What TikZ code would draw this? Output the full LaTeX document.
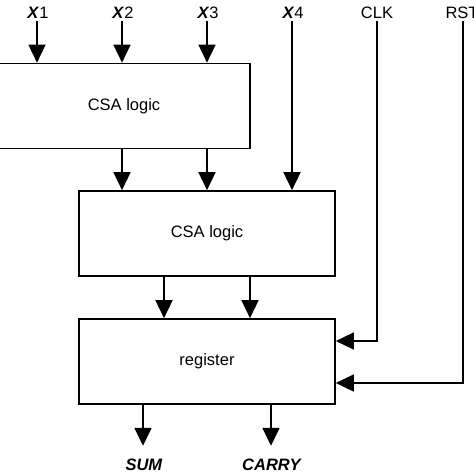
\documentclass[tikz,border=0pt]{standalone}
\usepackage{fontspec}
\setmainfont{Liberation Sans}
\usetikzlibrary{arrows.meta}
\tikzset{
  blk/.style={draw, line width=1.7pt, minimum height=85pt, inner sep=0pt, font=\fontsize{16.5pt}{19pt}\selectfont},
  lbl/.style={anchor=base, inner sep=2.5pt, font=\fontsize{16.5pt}{19pt}\selectfont},
  arr/.style={line width=1.7pt, -{Triangle[length=18pt,width=17pt]}},
  wire/.style={line width=1.7pt}
}
\begin{document}
\begin{tikzpicture}[x=1pt,y=-1pt]
\useasboundingbox (0,0) rectangle (474,474);
\clip (0,0) rectangle (474,474);
% labels
\node[lbl] (x1) at (38,18.5) {\textbf{\textit{X}}1};
\node[lbl] (x2) at (123,18.5) {\textbf{\textit{X}}2};
\node[lbl] (x3) at (208,18.5) {\textbf{\textit{X}}3};
\node[lbl] (x4) at (293,18.5) {\textbf{\textit{X}}4};
\node[lbl] (clk) at (377,18.5) {CLK};
\node[lbl] (rst) at (462,18.5) {RST};
% blocks
\node[blk, minimum width=252pt] (csa1) at (124,106) {CSA logic};
\node[blk, minimum width=256pt] (csa2) at (207,233.5) {CSA logic};
\node[blk, minimum width=256pt] (reg) at (207,361.5) {register};
% outputs
\node[lbl] (sum) at (144,470) {\textbf{\textit{SUM}}};
\node[lbl] (carry) at (272,470) {\textbf{\textit{CARRY}}};
% arrows
\draw[arr] ([xshift=-1pt]x1.south) -- ([xshift=-1pt]x1.south |- csa1.north);
\draw[arr] ([xshift=-1pt]x2.south) -- ([xshift=-1pt]x2.south |- csa1.north);
\draw[arr] ([xshift=-1pt]x3.south) -- ([xshift=-1pt]x3.south |- csa1.north);
\draw[arr] ([xshift=-1pt]x4.south) -- ([xshift=-1pt]x4.south |- csa2.north);
\draw[arr] ([xshift=-1pt]x2.south |- csa1.south) -- ([xshift=-1pt]x2.south |- csa2.north);
\draw[arr] ([xshift=-1pt]x3.south |- csa1.south) -- ([xshift=-1pt]x3.south |- csa2.north);
\draw[arr] ([xshift=-43pt]csa2.south) -- ([xshift=-43pt]reg.north);
\draw[arr] ([xshift=43pt]csa2.south) -- ([xshift=43pt]reg.north);
\draw[arr] (clk.south) |- ([yshift=20.5pt]reg.east);
\draw[arr] ([xshift=1pt]rst.south) |- ([yshift=-21.5pt]reg.east);
\draw[arr, shorten >=10pt] ([xshift=-64pt]reg.south) -- ([xshift=-64pt]reg.south |- sum.north);
\draw[arr, shorten >=10pt] ([xshift=64pt]reg.south) -- ([xshift=64pt]reg.south |- carry.north);
\end{tikzpicture}
\end{document}
